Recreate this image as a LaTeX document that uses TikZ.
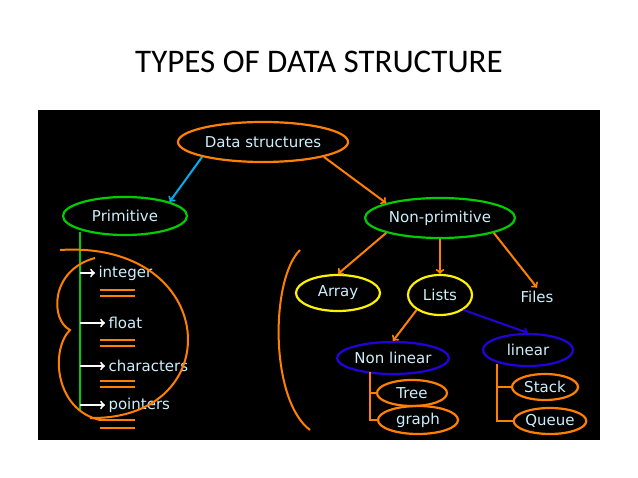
\documentclass[tikz,border=0pt]{standalone}
\usepackage{fontspec}
\setmainfont{Carlito}
\newfontfamily\hand{DejaVu Sans}
\begin{document}
\begin{tikzpicture}[x=1pt,y=-1pt,
  txt/.style={text=cyan!20!white,font=\hand\fontsize{15}{15}\selectfont},
  ov/.style={ellipse,draw,line width=2.2pt,inner sep=1pt},
  ar/.style={->,line width=2pt},
  lst/.style={txt,anchor=west}]
\usetikzlibrary{shapes.geometric}
\fill[white] (0,0) rectangle (638,478);
\node at (319,62) {\fontsize{33}{33}\selectfont TYPES OF DATA STRUCTURE};
\fill[black] (38,110) rectangle (600,440);
\node[ov,draw=orange,txt,minimum width=170,minimum height=40] (ds) at (263,142) {Data structures};
\node[ov,draw=green!80!black,txt,minimum width=124,minimum height=38] (pr) at (125,216) {Primitive};
\node[ov,draw=green!80!black,txt,minimum width=150,minimum height=40] (np) at (440,218) {Non-primitive};
\node[ov,draw=yellow,txt,minimum width=84,minimum height=36] (arr) at (338,293) {Array};
\node[ov,draw=yellow,txt,minimum width=64,minimum height=40] (li) at (440,295) {Lists};
\node[txt] (fi) at (537,297) {Files};
\node[ov,draw=blue!70!violet,txt,minimum width=100,minimum height=32] (nl) at (393,358) {Non linear};
\node[ov,draw=blue!70!violet,txt,minimum width=90,minimum height=32] (ln) at (528,350) {linear};
\node[ov,draw=orange,txt,minimum width=70,minimum height=26] (tr) at (412,393) {Tree};
\node[ov,draw=orange,txt,minimum width=80,minimum height=28] (gr) at (418,420) {graph};
\node[ov,draw=orange,txt,minimum width=66,minimum height=26] (st) at (545,387) {Stack};
\node[ov,draw=orange,txt,minimum width=66,minimum height=26] (qu) at (550,421) {Queue};
\draw[ar,cyan] (ds.south west) -- (pr.north east);
\draw[ar,orange] (ds.south east) -- (np.north west);
\draw[ar,orange] (np.south west) -- (arr.north);
\draw[ar,orange] (np.south) -- (li.north);
\draw[ar,orange] (np.south east) -- (fi.north);
\draw[ar,orange] (li.south west) -- (nl.north);
\draw[ar,blue!70!violet] (li.south east) -- (ln.north);
\draw[orange,line width=2pt] (370,372) |- (tr.west) (370,372) |- (gr.west);
\draw[orange,line width=2pt] (497,364) |- (st.west) (497,364) |- (qu.west);
\coordinate (v0) at (80,232);
\coordinate (v1) at (80,410);
\draw[green!80!black,line width=2pt] (v0) -- (v1);
\node[lst] (in) at (95,273) {integer};
\node[lst] (fl) at (105,323) {float};
\node[lst] (ch) at (105,366) {characters};
\node[lst] (po) at (105,405) {pointers};
\foreach \n in {in,fl,ch,po}{\draw[ar,white] (80,0 |- \n.west) -- (\n.west);}
\foreach \y in {290,296,340,346,381,387,420,428}{\draw[orange,line width=2pt] (100,\y) -- (135,\y);}
\draw[orange,line width=2pt] (95,258) .. controls (50,270) and (50,320) .. (70,330) .. controls (50,350) and (55,410) .. (100,420);
\draw[orange,line width=2pt] (60,250) .. controls (220,240) and (230,420) .. (90,418);
\draw[orange,line width=2pt] (300,250) .. controls (270,280) and (270,400) .. (310,430);
\end{tikzpicture}
\end{document}
